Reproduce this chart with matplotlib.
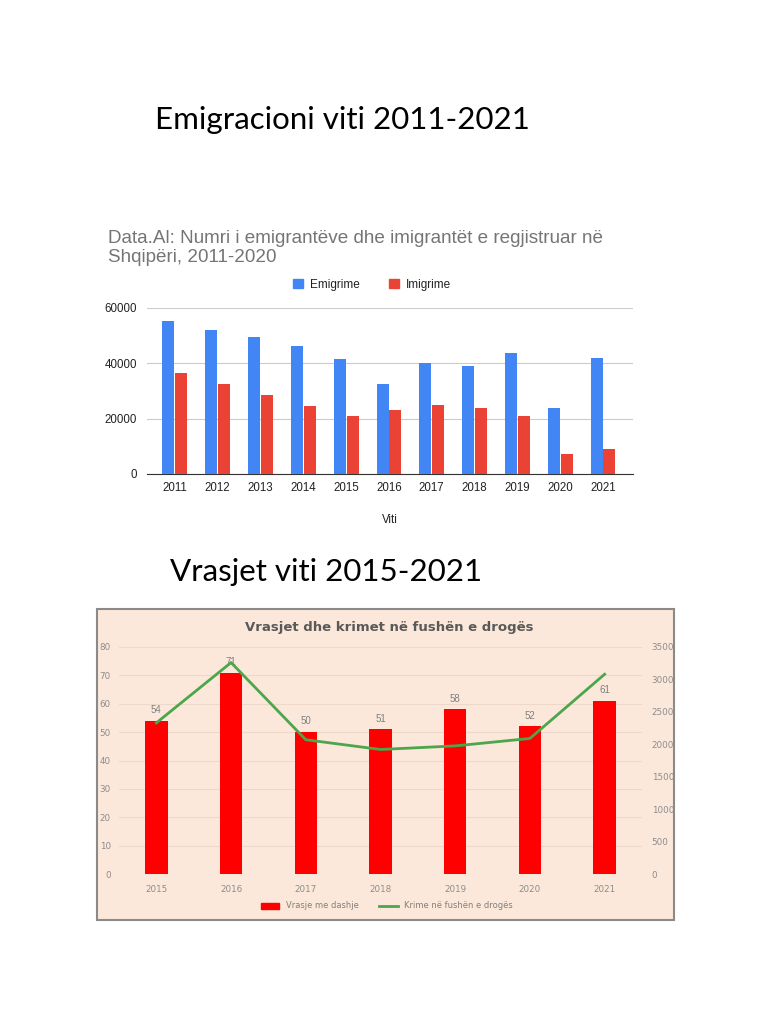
import matplotlib.pyplot as plt
import matplotlib.patches as mpatches
from matplotlib.lines import Line2D
import numpy as np

# data - chart 1 (emigration / immigration)
years1 = ['2011', '2012', '2013', '2014', '2015', '2016', '2017', '2018', '2019', '2020', '2021']
emigrime = [55200, 52200, 49600, 46200, 41400, 32500, 40000, 38900, 43700, 23700, 41800]
imigrime = [36600, 32500, 28400, 24600, 20900, 23200, 25000, 23700, 20900, 7100, 9000]

# data - chart 2 (murders / drug crimes)
years2 = ['2015', '2016', '2017', '2018', '2019', '2020', '2021']
vrasje = [54, 71, 50, 51, 58, 52, 61]
krime_droge = [2330, 3260, 2070, 1920, 1975, 2090, 3080]

W, H = 768, 1024
fig = plt.figure(figsize=(W / 100, H / 100), dpi=100)
fig.patch.set_facecolor('white')


def box(l, t, r, b):
    # pixel box -> figure fraction rect
    return [l / W, 1 - b / H, (r - l) / W, (b - t) / H]


title_font = 'Lato'
fig.text(155 / W, 1 - 120 / H, 'Emigracioni viti 2011-2021', fontsize=22.5,
         family=title_font, ha='left', va='center', color='black')
fig.text(170 / W, 1 - 572 / H, 'Vrasjet viti 2015-2021', fontsize=22.5,
         family=title_font, ha='left', va='center', color='black')

# ---------- chart 1 ----------
ax1 = fig.add_axes(box(147, 308, 633, 474))
x = np.arange(len(years1))
bw = 0.28
ax1.bar(x - 0.15, emigrime, bw, color='#4285F4', zorder=3)
ax1.bar(x + 0.15, imigrime, bw, color='#EA4335', zorder=3)
ax1.set_ylim(0, 60000)
ax1.set_xlim(-0.65, 10.7)
ax1.set_yticks([0, 20000, 40000, 60000])
ax1.set_xticks(x)
ax1.set_xticklabels(years1)
ax1.grid(axis='y', color='#cccccc', linewidth=0.8, zorder=0)
for s in ['top', 'right', 'left']:
    ax1.spines[s].set_visible(False)
ax1.spines['bottom'].set_color('#333333')
ax1.tick_params(axis='both', length=0, labelsize=8.3, labelcolor='#222222',
                labelfontfamily='Liberation Sans')
ax1.tick_params(axis='y', pad=7)
ax1.tick_params(axis='x', pad=6)
ax1.set_xlabel('Viti', fontsize=8.3, color='#222222', family='Liberation Sans', labelpad=14)

fig.text(108 / W, 1 - 248 / H,
         'Data.Al: Numri i emigrantëve dhe imigrantët e regjistruar në\nShqipëri, 2011-2020',
         fontsize=13.6, family='Liberation Sans', color='#757575', ha='left', va='center',
         linespacing=1.18)
h1 = [mpatches.Patch(color='#4285F4'), mpatches.Patch(color='#EA4335')]
fig.legend(h1, ['Emigrime', 'Imigrime'], loc='center', bbox_to_anchor=(372 / W, 1 - 285 / H),
           ncol=2, frameon=False, handlelength=0.8, handleheight=0.8, handletextpad=0.6,
           columnspacing=2.5, prop={'family': 'Liberation Sans', 'size': 8.5},
           labelcolor='#222222')

# ---------- chart 2 ----------
bg = '#FCE8DA'
fig.patches.append(mpatches.Rectangle((97 / W, 1 - 920 / H), (674 - 97) / W, (920 - 609) / H,
                                      transform=fig.transFigure, facecolor=bg,
                                      edgecolor='#8a8a8a', linewidth=1.5, zorder=-10))
ax2 = fig.add_axes(box(119, 647, 642, 874))
ax2.set_facecolor('none')
x2 = np.arange(len(years2))
ax2.bar(x2, vrasje, 0.30, color='#FF0000', zorder=3)
for xi, v in zip(x2, vrasje):
    ax2.text(xi, v + 2, str(v), ha='center', va='bottom', fontsize=7, color='#7f7f7f',
             family='Liberation Sans', zorder=2)
ax2.set_ylim(0, 80)
ax2.set_xlim(-0.5, 6.5)
ax2.set_yticks(range(0, 81, 10))
ax2.set_xticks(x2)
ax2.set_xticklabels(years2)
ax2.grid(axis='y', color='#EED8CA', linewidth=0.8, zorder=0)
for s in ax2.spines.values():
    s.set_visible(False)
ax2.tick_params(axis='both', length=0, labelsize=6.3, labelcolor='#8c8c8c')
ax2.tick_params(axis='y', pad=6)
ax2.tick_params(axis='x', pad=8)

ax3 = ax2.twinx()
ax3.plot(x2, krime_droge, color='#4CA64C', linewidth=2, zorder=4)
ax3.set_ylim(0, 3500)
ax3.set_yticks(range(0, 3501, 500))
for s in ax3.spines.values():
    s.set_visible(False)
ax3.tick_params(axis='y', length=0, labelsize=6.3, labelcolor='#8c8c8c', pad=7)

fig.text(389 / W, 1 - 627 / H, 'Vrasjet dhe krimet në fushën e drogës', fontsize=9.5,
         fontweight='bold', color='#595959', ha='center', va='center')
h2 = [mpatches.Patch(color='#FF0000'), Line2D([], [], color='#4CA64C', linewidth=2)]
fig.legend(h2, ['Vrasje me dashje', 'Krime në fushën e drogës'], loc='center',
           bbox_to_anchor=(387 / W, 1 - 906 / H), ncol=2, frameon=False, fontsize=6,
           labelcolor='#7f7f7f', handlelength=2.2, handleheight=0.7, columnspacing=2.5)

fig.savefig('out.png', dpi=100)
